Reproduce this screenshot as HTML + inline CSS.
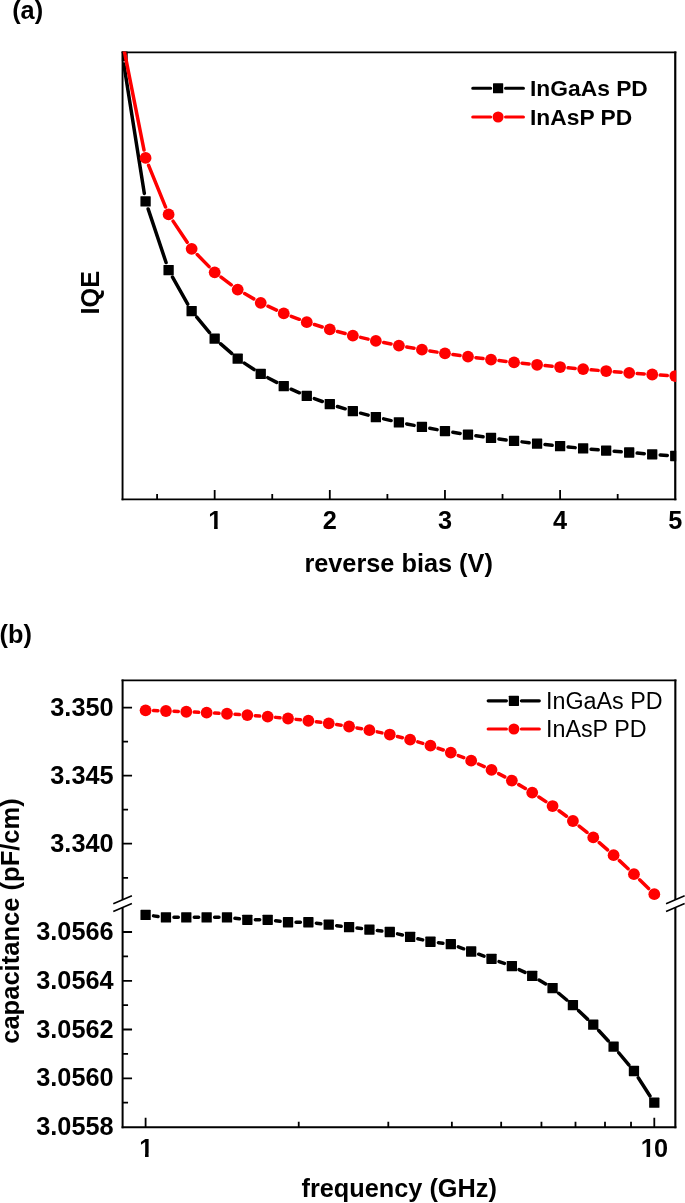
<!DOCTYPE html>
<html lang="en"><head><meta charset="utf-8"><title>IQE and capacitance</title>
<style>
html,body{margin:0;padding:0;background:#fff;}
body{width:685px;height:1203px;overflow:hidden;}
svg{display:block;font-family:'Liberation Sans', Arial, Helvetica, sans-serif;fill:#000;}
</style></head><body>
<svg width="685" height="1203" viewBox="0 0 685 1203">
<rect width="685" height="1203" fill="#fff"/>
<clipPath id="ca"><rect x="121.85" y="51.6" width="554.4000000000001" height="448.6"/></clipPath>
<path d="M121.6 52.4H676.35" stroke="#000" stroke-width="1.7" fill="none"/>
<path d="M121.6 499.4H676.35" stroke="#000" stroke-width="1.75" fill="none"/>
<path d="M122.55 51.55V500.27" stroke="#000" stroke-width="1.9" fill="none"/>
<path d="M675.25 51.55V500.27" stroke="#000" stroke-width="2.2" fill="none"/>
<path d="M214.67 499.4V489.9M329.81 499.4V489.9M444.96 499.4V489.9M560.1 499.4V489.9M157.09 499.4V494.0M272.24 499.4V494.0M387.39 499.4V494.0M502.53 499.4V494.0M617.68 499.4V494.0" stroke="#000" stroke-width="1.8" fill="none"/>
<g clip-path="url(#ca)">
<path d="M123.8 64.1L144.33 193.44M148.12 208.93L166.07 262.52M172.53 277.08L187.72 304.1M196.76 317.22L209.54 332.52M220.7 343.91L231.66 353.43M244.36 363.1L254.06 369.54M267.81 377.69L276.67 382.36M291.11 389.23L299.43 392.8M314.32 398.64L322.28 401.48M337.47 406.49L345.18 408.82M360.58 413.16L368.13 415.12M383.67 418.9L391.1 420.59M406.75 423.92L414.08 425.38M429.81 428.34L437.08 429.63M452.86 432.28L460.09 433.42M475.91 435.81L483.1 436.83M498.95 438.99L506.11 439.91M521.99 441.87L529.13 442.72M545.03 444.51L552.15 445.28M568.07 446.92L575.17 447.63M591.1 449.15L598.2 449.8M614.13 451.2L621.22 451.8M637.17 453.11L644.25 453.66M660.2 454.88L667.27 455.4" fill="none" stroke="#000" stroke-width="3.5" stroke-linecap="round"/>
<rect x="117.4" y="51.05" width="10.3" height="10.3" rx="0.6" fill="#000"/>
<rect x="140.43" y="196.19" width="10.3" height="10.3" rx="0.6" fill="#000"/>
<rect x="163.46" y="264.96" width="10.3" height="10.3" rx="0.6" fill="#000"/>
<rect x="186.49" y="305.93" width="10.3" height="10.3" rx="0.6" fill="#000"/>
<rect x="209.52" y="333.51" width="10.3" height="10.3" rx="0.6" fill="#000"/>
<rect x="232.55" y="353.53" width="10.3" height="10.3" rx="0.6" fill="#000"/>
<rect x="255.58" y="368.82" width="10.3" height="10.3" rx="0.6" fill="#000"/>
<rect x="278.6" y="380.93" width="10.3" height="10.3" rx="0.6" fill="#000"/>
<rect x="301.63" y="390.8" width="10.3" height="10.3" rx="0.6" fill="#000"/>
<rect x="324.66" y="399.02" width="10.3" height="10.3" rx="0.6" fill="#000"/>
<rect x="347.69" y="405.99" width="10.3" height="10.3" rx="0.6" fill="#000"/>
<rect x="370.72" y="411.99" width="10.3" height="10.3" rx="0.6" fill="#000"/>
<rect x="393.75" y="417.21" width="10.3" height="10.3" rx="0.6" fill="#000"/>
<rect x="416.78" y="421.8" width="10.3" height="10.3" rx="0.6" fill="#000"/>
<rect x="439.81" y="425.88" width="10.3" height="10.3" rx="0.6" fill="#000"/>
<rect x="462.84" y="429.53" width="10.3" height="10.3" rx="0.6" fill="#000"/>
<rect x="485.87" y="432.81" width="10.3" height="10.3" rx="0.6" fill="#000"/>
<rect x="508.9" y="435.79" width="10.3" height="10.3" rx="0.6" fill="#000"/>
<rect x="531.93" y="438.5" width="10.3" height="10.3" rx="0.6" fill="#000"/>
<rect x="554.95" y="440.98" width="10.3" height="10.3" rx="0.6" fill="#000"/>
<rect x="577.98" y="443.27" width="10.3" height="10.3" rx="0.6" fill="#000"/>
<rect x="601.01" y="445.38" width="10.3" height="10.3" rx="0.6" fill="#000"/>
<rect x="624.04" y="447.33" width="10.3" height="10.3" rx="0.6" fill="#000"/>
<rect x="647.07" y="449.14" width="10.3" height="10.3" rx="0.6" fill="#000"/>
<rect x="670.1" y="450.83" width="10.3" height="10.3" rx="0.6" fill="#000"/>
</g>
<g clip-path="url(#ca)">
<path d="M124.11 50.03L144.02 150.08M148.6 165.33L165.59 207.04M173.06 221.1L187.19 242.21M197.24 254.58L209.07 266.65M221.07 277.16L231.29 284.8M244.63 293.59L253.79 298.87M267.99 306.21L276.49 310.11M291.24 316.27L299.3 319.31M314.41 324.54L322.18 326.99M337.54 331.47L345.12 333.5M360.63 337.38L368.08 339.11M383.71 342.5L391.06 343.99M406.78 346.99L414.05 348.29M429.83 350.95L437.06 352.11M452.88 354.49L460.07 355.52M475.92 357.67L483.08 358.6M498.96 360.55L506.1 361.39M522 363.17L529.12 363.93M545.04 365.56L552.14 366.26M568.07 367.76L575.17 368.4M591.11 369.79L598.19 370.38M614.14 371.66L621.22 372.21M637.17 373.41L644.24 373.92M660.2 375.03L667.27 375.51" fill="none" stroke="#f00" stroke-width="3.5" stroke-linecap="round"/>
<circle cx="122.55" cy="42.18" r="5.9" fill="#f00"/>
<circle cx="145.58" cy="157.93" r="5.9" fill="#f00"/>
<circle cx="168.61" cy="214.45" r="5.9" fill="#f00"/>
<circle cx="191.64" cy="248.86" r="5.9" fill="#f00"/>
<circle cx="214.67" cy="272.36" r="5.9" fill="#f00"/>
<circle cx="237.7" cy="289.6" r="5.9" fill="#f00"/>
<circle cx="260.73" cy="302.87" r="5.9" fill="#f00"/>
<circle cx="283.75" cy="313.45" r="5.9" fill="#f00"/>
<circle cx="306.78" cy="322.13" r="5.9" fill="#f00"/>
<circle cx="329.81" cy="329.39" r="5.9" fill="#f00"/>
<circle cx="352.84" cy="335.57" r="5.9" fill="#f00"/>
<circle cx="375.87" cy="340.91" r="5.9" fill="#f00"/>
<circle cx="398.9" cy="345.58" r="5.9" fill="#f00"/>
<circle cx="421.93" cy="349.7" r="5.9" fill="#f00"/>
<circle cx="444.96" cy="353.36" r="5.9" fill="#f00"/>
<circle cx="467.99" cy="356.65" r="5.9" fill="#f00"/>
<circle cx="491.02" cy="359.62" r="5.9" fill="#f00"/>
<circle cx="514.05" cy="362.32" r="5.9" fill="#f00"/>
<circle cx="537.08" cy="364.78" r="5.9" fill="#f00"/>
<circle cx="560.1" cy="367.04" r="5.9" fill="#f00"/>
<circle cx="583.13" cy="369.12" r="5.9" fill="#f00"/>
<circle cx="606.16" cy="371.04" r="5.9" fill="#f00"/>
<circle cx="629.19" cy="372.83" r="5.9" fill="#f00"/>
<circle cx="652.22" cy="374.49" r="5.9" fill="#f00"/>
<circle cx="675.25" cy="376.04" r="5.9" fill="#f00"/>
</g>
<text x="208.23" y="528.7" font-size="25.3" font-weight="bold" text-anchor="start">1</text><rect x="207.83" y="525.85" width="6.26" height="3.6" fill="#fff"/><rect x="217.66" y="525.85" width="5" height="3.6" fill="#fff"/>
<text x="329.81" y="528.7" font-size="25.3" font-weight="bold" text-anchor="middle">2</text>
<text x="444.96" y="528.7" font-size="25.3" font-weight="bold" text-anchor="middle">3</text>
<text x="560.1" y="528.7" font-size="25.3" font-weight="bold" text-anchor="middle">4</text>
<text x="675.25" y="528.7" font-size="25.3" font-weight="bold" text-anchor="middle">5</text>
<text x="398.6" y="571.9" font-size="25.3" font-weight="bold" text-anchor="middle">reverse bias (V)</text>
<text x="0" y="0" font-size="25.3" font-weight="bold" text-anchor="middle" transform="translate(98.8 292.7) rotate(-90)">IQE</text>
<text x="12.2" y="19.1" font-size="25.3" font-weight="bold" text-anchor="start">(a)</text>
<path d="M472.8 88.25H490.6M505.6 88.25H523.4" stroke="#000" stroke-width="3.2" stroke-linecap="round" fill="none"/>
<rect x="493" y="83.15" width="10.2" height="10.2" rx="0.6" fill="#000"/>
<text x="530" y="96" font-size="22.8" font-weight="bold" text-anchor="start">InGaAs PD</text>
<path d="M472.8 117.0H490.6M505.6 117.0H523.4" stroke="#f00" stroke-width="3.2" stroke-linecap="round" fill="none"/>
<circle cx="498.1" cy="117.0" r="5.5" fill="#f00"/>
<text x="530" y="124.8" font-size="22.8" font-weight="bold" text-anchor="start">InAsP PD</text>
<clipPath id="cb"><rect x="121.89999999999999" y="679.5500000000001" width="554.45" height="448.65000000000003"/></clipPath>
<path d="M121.6 680.35H676.4" stroke="#000" stroke-width="1.8" fill="none"/>
<path d="M121.6 1127.2H676.4" stroke="#000" stroke-width="2.15" fill="none"/>
<path d="M122.6 899.9V679.45M122.6 907.5V1128.27" stroke="#000" stroke-width="2.0" fill="none"/>
<path d="M675.35 899.9V679.45M675.35 907.5V1128.27" stroke="#000" stroke-width="2.1" fill="none"/>
<path d="M113.3 903.85L131.9 895.85M113.3 911.45L131.9 903.45M666.05 903.85L684.65 895.85M666.05 911.45L684.65 903.45" stroke="#000" stroke-width="1.6" fill="none"/>
<path d="M122.6 707.6H132.04999999999998M122.6 775.65H132.04999999999998M122.6 843.7H132.04999999999998M122.6 741.65H128.04999999999998M122.6 809.7H128.04999999999998M122.6 877.8H128.04999999999998M122.6 932.0H132.04999999999998M122.6 980.8H132.04999999999998M122.6 1029.5H132.04999999999998M122.6 1078.3H132.04999999999998M122.6 956.4H128.04999999999998M122.6 1005.1H128.04999999999998M122.6 1053.9H128.04999999999998M122.6 1102.7H128.04999999999998M145.6 1127.2V1117.8M654.3 1127.2V1117.8M298.73 1127.2V1121.8M388.31 1127.2V1121.8M451.87 1127.2V1121.8M501.17 1127.2V1121.8M541.45 1127.2V1121.8M575.5 1127.2V1121.8M605 1127.2V1121.8M631.02 1127.2V1121.8" stroke="#000" stroke-width="1.8" fill="none"/>
<g clip-path="url(#cb)">
<path d="M153.54 915.88L158 916.42M173.95 917.37L178.3 917.37M194.3 917.37L198.64 917.37M214.64 917.37L218.99 917.37M234.94 918.32L239.4 918.86M255.34 919.81L259.69 919.81M275.63 920.76L280.09 921.29M296.04 922.25L300.38 922.25M316.33 923.2L320.79 923.73M336.68 925.64L341.14 926.17M357.02 928.07L361.48 928.61M377.37 930.51L381.83 931.05M397.56 933.86L402.34 935.01M417.9 938.74L422.69 939.89M438.42 942.71L442.88 943.24M458.35 946.9L463.64 948.8M478.7 954.21L483.99 956.12M499.04 961.53L504.34 963.43M519.08 969.6L525 972.43M539.07 980L545.7 983.97M558.69 993.23L566.78 1000.01M578.68 1010.69L587.48 1019.13M598.7 1030.53L608.16 1040.74M618.73 1052.75L628.83 1064.85M638.27 1077.73L649.98 1095.96" fill="none" stroke="#000" stroke-width="3.5" stroke-linecap="round"/>
<rect x="140.45" y="909.78" width="10.3" height="10.3" rx="0.6" fill="#000"/>
<rect x="160.8" y="912.22" width="10.3" height="10.3" rx="0.6" fill="#000"/>
<rect x="181.15" y="912.22" width="10.3" height="10.3" rx="0.6" fill="#000"/>
<rect x="201.49" y="912.22" width="10.3" height="10.3" rx="0.6" fill="#000"/>
<rect x="221.84" y="912.22" width="10.3" height="10.3" rx="0.6" fill="#000"/>
<rect x="242.19" y="914.66" width="10.3" height="10.3" rx="0.6" fill="#000"/>
<rect x="262.54" y="914.66" width="10.3" height="10.3" rx="0.6" fill="#000"/>
<rect x="282.89" y="917.1" width="10.3" height="10.3" rx="0.6" fill="#000"/>
<rect x="303.23" y="917.1" width="10.3" height="10.3" rx="0.6" fill="#000"/>
<rect x="323.58" y="919.53" width="10.3" height="10.3" rx="0.6" fill="#000"/>
<rect x="343.93" y="921.97" width="10.3" height="10.3" rx="0.6" fill="#000"/>
<rect x="364.28" y="924.41" width="10.3" height="10.3" rx="0.6" fill="#000"/>
<rect x="384.63" y="926.85" width="10.3" height="10.3" rx="0.6" fill="#000"/>
<rect x="404.97" y="931.73" width="10.3" height="10.3" rx="0.6" fill="#000"/>
<rect x="425.32" y="936.6" width="10.3" height="10.3" rx="0.6" fill="#000"/>
<rect x="445.67" y="939.04" width="10.3" height="10.3" rx="0.6" fill="#000"/>
<rect x="466.02" y="946.36" width="10.3" height="10.3" rx="0.6" fill="#000"/>
<rect x="486.37" y="953.67" width="10.3" height="10.3" rx="0.6" fill="#000"/>
<rect x="506.71" y="960.99" width="10.3" height="10.3" rx="0.6" fill="#000"/>
<rect x="527.06" y="970.74" width="10.3" height="10.3" rx="0.6" fill="#000"/>
<rect x="547.41" y="982.94" width="10.3" height="10.3" rx="0.6" fill="#000"/>
<rect x="567.76" y="1000" width="10.3" height="10.3" rx="0.6" fill="#000"/>
<rect x="588.11" y="1019.51" width="10.3" height="10.3" rx="0.6" fill="#000"/>
<rect x="608.45" y="1041.46" width="10.3" height="10.3" rx="0.6" fill="#000"/>
<rect x="628.8" y="1065.84" width="10.3" height="10.3" rx="0.6" fill="#000"/>
<rect x="649.15" y="1097.54" width="10.3" height="10.3" rx="0.6" fill="#000"/>
</g>
<g clip-path="url(#cb)">
<path d="M153.6 710.59L157.95 710.72M173.94 711.28L178.3 711.44M194.29 712.11L198.65 712.3M214.63 713.1L219 713.33M234.98 714.28L239.36 714.56M255.32 715.69L259.71 716.03M275.65 717.38L280.07 717.78M295.99 719.38L300.43 719.86M316.32 721.76L320.8 722.34M336.64 724.58L341.17 725.28M356.95 727.92L361.56 728.76M377.25 731.86L381.95 732.87M397.53 736.49L402.37 737.7M417.8 741.91L422.8 743.38M438.04 748.23L443.25 750.01M458.26 755.55L463.73 757.72M478.45 763.99L484.24 766.63M498.61 773.65L504.77 776.86M518.75 784.62L525.32 788.5M538.88 796.98L545.89 801.62M559.01 810.78L566.46 816.26M579.14 826.02L587.03 832.38M599.28 842.67L607.58 849.92M619.45 860.64L628.1 868.7M639.66 879.76L648.59 888.53" fill="none" stroke="#f00" stroke-width="3.5" stroke-linecap="round"/>
<circle cx="145.6" cy="710.33" r="5.9" fill="#f00"/>
<circle cx="165.95" cy="710.98" r="5.9" fill="#f00"/>
<circle cx="186.3" cy="711.75" r="5.9" fill="#f00"/>
<circle cx="206.64" cy="712.67" r="5.9" fill="#f00"/>
<circle cx="226.99" cy="713.77" r="5.9" fill="#f00"/>
<circle cx="247.34" cy="715.08" r="5.9" fill="#f00"/>
<circle cx="267.69" cy="716.65" r="5.9" fill="#f00"/>
<circle cx="288.04" cy="718.51" r="5.9" fill="#f00"/>
<circle cx="308.38" cy="720.73" r="5.9" fill="#f00"/>
<circle cx="328.73" cy="723.37" r="5.9" fill="#f00"/>
<circle cx="349.08" cy="726.49" r="5.9" fill="#f00"/>
<circle cx="369.43" cy="730.19" r="5.9" fill="#f00"/>
<circle cx="389.78" cy="734.54" r="5.9" fill="#f00"/>
<circle cx="410.12" cy="739.65" r="5.9" fill="#f00"/>
<circle cx="430.47" cy="745.64" r="5.9" fill="#f00"/>
<circle cx="450.82" cy="752.6" r="5.9" fill="#f00"/>
<circle cx="471.17" cy="760.67" r="5.9" fill="#f00"/>
<circle cx="491.52" cy="769.95" r="5.9" fill="#f00"/>
<circle cx="511.86" cy="780.56" r="5.9" fill="#f00"/>
<circle cx="532.21" cy="792.56" r="5.9" fill="#f00"/>
<circle cx="552.56" cy="806.04" r="5.9" fill="#f00"/>
<circle cx="572.91" cy="821" r="5.9" fill="#f00"/>
<circle cx="593.26" cy="837.41" r="5.9" fill="#f00"/>
<circle cx="613.6" cy="855.18" r="5.9" fill="#f00"/>
<circle cx="633.95" cy="874.16" r="5.9" fill="#f00"/>
<circle cx="654.3" cy="894.13" r="5.9" fill="#f00"/>
</g>
<text x="113.6" y="715.7" font-size="25.3" font-weight="bold" text-anchor="end">3.350</text>
<text x="113.6" y="783.75" font-size="25.3" font-weight="bold" text-anchor="end">3.345</text>
<text x="113.6" y="851.8" font-size="25.3" font-weight="bold" text-anchor="end">3.340</text>
<text x="113.6" y="940" font-size="25.3" font-weight="bold" text-anchor="end">3.0566</text>
<text x="113.6" y="988.8" font-size="25.3" font-weight="bold" text-anchor="end">3.0564</text>
<text x="113.6" y="1037.5" font-size="25.3" font-weight="bold" text-anchor="end">3.0562</text>
<text x="113.6" y="1086.3" font-size="25.3" font-weight="bold" text-anchor="end">3.0560</text>
<text x="113.6" y="1135.2" font-size="25.3" font-weight="bold" text-anchor="end">3.0558</text>
<text x="139.16" y="1156.5" font-size="25.3" font-weight="bold" text-anchor="start">1</text><rect x="138.76" y="1153.65" width="6.26" height="3.6" fill="#fff"/><rect x="148.59" y="1153.65" width="5" height="3.6" fill="#fff"/>
<text x="640.63 654.1" y="1156.5" font-size="25.3" font-weight="bold" text-anchor="start">10</text><rect x="640.23" y="1153.65" width="6.26" height="3.6" fill="#fff"/><rect x="650.05" y="1153.65" width="4.7" height="3.6" fill="#fff"/>
<text x="399.2" y="1196.8" font-size="25.3" font-weight="bold" text-anchor="middle">frequency (GHz)</text>
<text x="0" y="0" font-size="25.55" font-weight="bold" text-anchor="middle" transform="translate(19.1 921) rotate(-90)">capacitance (pF/cm)</text>
<text x="-0.4" y="642.5" font-size="25.3" font-weight="bold" text-anchor="start">(b)</text>
<path d="M488.2 700.8H506.4M521.4 700.8H539.3" stroke="#000" stroke-width="3.2" stroke-linecap="round" fill="none"/>
<rect x="508.8" y="695.7" width="10.2" height="10.2" rx="0.6" fill="#000"/>
<text x="546" y="709.1" font-size="23.3" font-weight="normal" text-anchor="start">InGaAs PD</text>
<path d="M488.2 729.0H506.4M521.4 729.0H539.3" stroke="#f00" stroke-width="3.2" stroke-linecap="round" fill="none"/>
<circle cx="513.9" cy="729.0" r="5.5" fill="#f00"/>
<text x="546" y="737" font-size="23.3" font-weight="normal" text-anchor="start">InAsP PD</text>
</svg>
</body></html>
